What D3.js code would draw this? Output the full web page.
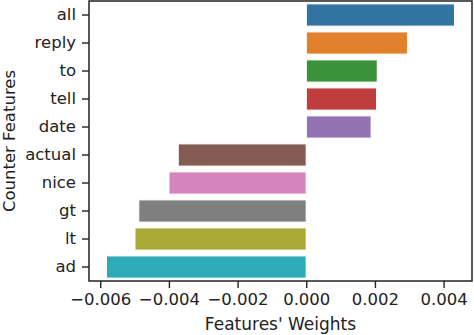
<!DOCTYPE html>
<html>
<head>
<meta charset="utf-8">
<script src="https://cdn.jsdelivr.net/npm/d3@7"></script>
<style>
  body { margin: 0; background: #fff; }
  svg text { font-family: "DejaVu Sans", sans-serif; fill: #222; }
</style>
</head>
<body>
<div id="chart"></div>
<script>
// 데이터
const features = ["all", "reply", "to", "tell", "date", "actual", "nice", "gt", "lt", "ad"];
const weights = [0.00432, 0.00295, 0.00207, 0.00205, 0.00189, -0.00373, -0.00400, -0.00488, -0.00499, -0.00582];
const barColors = ["#3274a1", "#e1812c", "#3a923a", "#c03d3e", "#9372b2", "#845b53", "#d684bd", "#7f7f7f", "#a9aa35", "#2eabb8"];
const xTicks = [-0.006, -0.004, -0.002, 0, 0.002, 0.004];

const W = 474, H = 335;
const margin = {left: 89, right: 2, top: 1, bottom: 54};

const svg = d3.select("#chart").append("svg")
  .attr("width", W)
  .attr("height", H);

// 축 범위 (matplotlib 기본 5% 여백)
const lo = d3.min(weights), hi = d3.max(weights);
const pad = (hi - lo) * 0.05;

const x = d3.scaleLinear()
  .domain([lo - pad, hi + pad])
  .range([margin.left, W - margin.right]);

const y = d3.scaleBand()
  .domain(features)
  .range([margin.top, H - margin.bottom])
  .paddingInner(0.2)
  .paddingOuter(0.1);

// 막대
svg.append("g")
  .selectAll("rect")
  .data(features)
  .join("rect")
  .attr("x", (d, i) => x(Math.min(0, weights[i])))
  .attr("y", d => y(d))
  .attr("width", (d, i) => Math.abs(x(weights[i]) - x(0)))
  .attr("height", y.bandwidth())
  .attr("fill", (d, i) => barColors[i])
  .attr("stroke", "#fff")
  .attr("stroke-width", 1.2);

// x축
const xAxis = svg.append("g")
  .attr("transform", `translate(0,${H - margin.bottom})`)
  .call(d3.axisBottom(x).tickValues(xTicks).tickFormat(d3.format(".3f")).tickSize(7).tickPadding(5));

// y축
const yAxis = svg.append("g")
  .attr("transform", `translate(${margin.left},0)`)
  .call(d3.axisLeft(y).tickSize(7).tickPadding(6));

[xAxis, yAxis].forEach(a => {
  a.select(".domain").remove();
  a.selectAll("line").attr("stroke", "#222").attr("stroke-width", 1.4);
  a.selectAll("text").attr("font-size", 16.5).attr("fill", "#222");
});

// 테두리
svg.append("rect")
  .attr("x", margin.left)
  .attr("y", margin.top)
  .attr("width", W - margin.right - margin.left)
  .attr("height", H - margin.bottom - margin.top)
  .attr("fill", "none")
  .attr("stroke", "#222")
  .attr("stroke-width", 1.5);

// 축 제목
svg.append("text")
  .attr("x", (margin.left + W - margin.right) / 2)
  .attr("y", 330)
  .attr("text-anchor", "middle")
  .attr("font-size", 17)
  .text("Features' Weights");

svg.append("text")
  .attr("transform", `translate(14.5,${(margin.top + H - margin.bottom) / 2}) rotate(-90)`)
  .attr("text-anchor", "middle")
  .attr("font-size", 16.5)
  .text("Counter Features");
</script>
</body>
</html>
